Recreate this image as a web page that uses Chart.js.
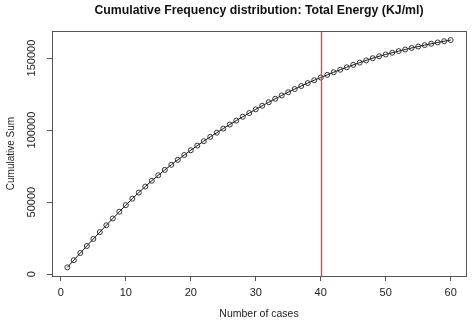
<!DOCTYPE html>
<html>
<head>
<meta charset="utf-8">
<script src="https://cdn.jsdelivr.net/npm/chart.js@4/dist/chart.umd.min.js"></script>
<style>
html,body{margin:0;padding:0;background:#fff;}
#wrap{width:474px;height:322px;}
</style>
</head>
<body>
<div id="wrap"><canvas id="c" width="474" height="322"></canvas></div>
<script>
const chartTitle = 'Cumulative Frequency distribution: Total Energy (KJ/ml)';
const xTitle = 'Number of cases';
const yTitle = 'Cumulative Sum';
const cases = [1,2,3,4,5,6,7,8,9,10,11,12,13,14,15,16,17,18,19,20,21,22,23,24,25,26,27,28,29,30,
               31,32,33,34,35,36,37,38,39,40,41,42,43,44,45,46,47,48,49,50,51,52,53,54,55,56,57,58,59,60];
const cumulativeSum = [4700,9700,14650,19550,24400,29200,33950,38650,43300,47900,
                       52350,56650,60800,64800,68650,72350,75900,79350,82700,86000,
                       89200,92300,95300,98200,101050,103850,106600,109250,111850,114400,
                       116900,119350,121750,124050,126300,128500,130600,132650,134600,136500,
                       138350,140150,141900,143600,145250,146850,148400,149900,151250,152500,
                       153700,154850,155950,157000,158000,159000,159950,160850,161700,162500];
const xTicks = [0,10,20,30,40,50,60];
const yTicks = [0,50000,100000,150000];
const cutoff = 40;

const FONT = "'Liberation Sans', Arial, Helvetica, sans-serif";
const INK = '#222';
const AXIS = '#555';

const points = cases.map((c,i)=>({x:c,y:cumulativeSum[i]}));

const overlay = {
  id:'overlay',
  afterDraw(chart){
    const {ctx, chartArea:a, scales:{x}} = chart;
    ctx.save();
    const px = Math.round(x.getPixelForValue(cutoff)) + 0.5;
    ctx.strokeStyle = 'rgb(222,70,80)';
    ctx.lineWidth = 1.4;
    ctx.beginPath();
    ctx.moveTo(px, a.top);
    ctx.lineTo(px, a.bottom);
    ctx.stroke();
    ctx.lineWidth = 1;
    ctx.strokeStyle = AXIS;
    ctx.strokeRect(Math.round(a.left)+0.5, Math.round(a.top)+0.5, Math.round(a.right-a.left), Math.round(a.bottom-a.top));
    ctx.fillStyle = '#111';
    ctx.font = 'bold 12.3px ' + FONT;
    ctx.textAlign = 'center';
    ctx.textBaseline = 'middle';
    ctx.fillText(chartTitle, (a.left+a.right)/2, 11);
    ctx.restore();
  }
};

new Chart(document.getElementById('c'), {
  type:'scatter',
  data:{datasets:[{
    data:points,
    showLine:true,
    borderColor:'#111',
    borderWidth:1,
    pointRadius:2.5,
    pointBorderWidth:1,
    pointBorderColor:'#333',
    pointBackgroundColor:'rgba(255,255,255,0)',
    pointHoverRadius:2.5
  }]},
  options:{
    responsive:false,
    animation:false,
    devicePixelRatio:1,
    layout:{padding:{left:0,right:8,top:31,bottom:0}},
    plugins:{legend:{display:false},tooltip:{enabled:false},title:{display:false}},
    scales:{
      x:{
        type:'linear',
        min:-1.36, max:62.36,
        afterBuildTicks(s){ s.ticks = xTicks.map(v=>({value:v})); },
        afterFit(s){ s.height = 46; },
        grid:{display:true,drawOnChartArea:false,tickLength:5,color:AXIS,tickColor:AXIS},
        border:{display:true,color:AXIS},
        ticks:{color:INK,font:{family:FONT,size:11},padding:5,maxRotation:0,callback:v=>String(v)},
        title:{display:true,text:xTitle,color:INK,font:{family:FONT,size:10.5},padding:{top:0,bottom:2}}
      },
      y:{
        type:'linear',
        min:-1300, max:168800,
        afterBuildTicks(s){ s.ticks = yTicks.map(v=>({value:v})); },
        afterFit(s){ s.width = 52; },
        grid:{display:true,drawOnChartArea:false,tickLength:5,color:AXIS,tickColor:AXIS},
        border:{display:true,color:AXIS},
        ticks:{color:INK,font:{family:FONT,size:11},padding:-3,minRotation:90,maxRotation:90,crossAlign:'center',callback:v=>String(v)},
        title:{display:true,text:yTitle,color:INK,font:{family:FONT,size:10},padding:{top:5,bottom:0}}
      }
    }
  },
  plugins:[overlay]
});
</script>
</body>
</html>
